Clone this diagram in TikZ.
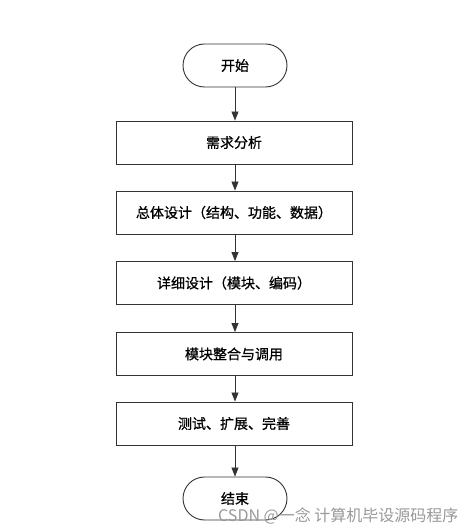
\documentclass[tikz,border=0pt]{standalone}
\usepackage{fontspec}
\setmainfont{Noto Sans CJK SC}
\newfontfamily\boxfont[FakeBold=0.8]{Noto Sans CJK SC}
\usetikzlibrary{arrows.meta}
\begin{document}
\begin{tikzpicture}[x=1pt,y=1pt,
  stepbox/.style={draw=black!80, line width=0.9pt, minimum width=236pt, minimum height=43pt, inner sep=0pt, font=\boxfont\fontsize{14pt}{16pt}\selectfont},
  termbox/.style={draw=black!80, line width=0.9pt, rounded corners=21.5pt, minimum width=104pt, minimum height=43pt, inner sep=0pt, font=\boxfont\fontsize{14pt}{16pt}\selectfont},
  flow/.style={draw=black!80, line width=0.9pt, -{Triangle[length=9pt,width=7pt]}}]
\useasboundingbox (0,0) rectangle (474,531);
\node[termbox] (start) at (235,465.5) {开始};
\node[stepbox] (s1) at (234,388.5) {需求分析};
\node[stepbox] (s2) at (234,318.5) {总体设计（结构、功能、数据）};
\node[stepbox] (s3) at (234,248) {详细设计（模块、编码）};
\node[stepbox] (s4) at (234,177) {模块整合与调用};
\node[stepbox] (s5) at (234,107.5) {测试、扩展、完善};
\node[termbox] (end) at (235,32.5) {结束};
\draw[flow] (start) -- (start|-s1.north);
\draw[flow] (s1.south-|start) -- (start|-s2.north);
\draw[flow] (s2.south-|start) -- (start|-s3.north);
\draw[flow] (s3.south-|start) -- (start|-s4.north);
\draw[flow] (s4.south-|start) -- (start|-s5.north);
\draw[flow] (s5.south-|start) -- (end);
\node[anchor=west, text=black!40, inner sep=0pt, font=\fontsize{16pt}{18pt}\selectfont] (wm) at (218,15) {CSDN @一念 计算机毕设源码程序};
\end{tikzpicture}
\end{document}
